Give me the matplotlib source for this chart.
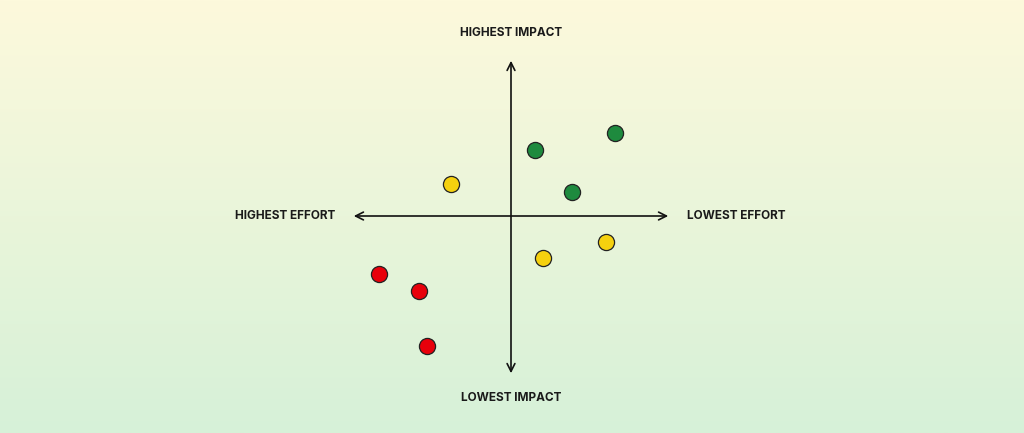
import matplotlib
matplotlib.use("Agg")
import matplotlib.pyplot as plt
import numpy as np

green_x = [24, 104, 61]
green_y = [66, 83, 24]
yellow_x = [-60, 95, 32]
yellow_y = [32, -26, -42]
red_x = [-132, -92, -84]
red_y = [-58, -75, -130]
labels = {"top": "HIGHEST IMPACT", "bottom": "LOWEST IMPACT",
          "left": "HIGHEST EFFORT", "right": "LOWEST EFFORT"}

fig = plt.figure(figsize=(10.24, 4.33), dpi=100)
ax = fig.add_axes([0, 0, 1, 1])
ax.set_xlim(-511, 513)
ax.set_ylim(-217, 216)
ax.axis("off")

top = np.array([0xfd, 0xf9, 0xdc]) / 255
bot = np.array([0xd6, 0xf1, 0xd8]) / 255
t = np.linspace(0, 1, 256)[:, None]
grad = (top * (1 - t) + bot * t)[:, None, :]
ax.imshow(grad, extent=[-511, 513, -217, 216], aspect="auto", zorder=0)

ap = dict(arrowstyle="<->", color="#111111", lw=1.2, mutation_scale=14)
ax.annotate("", xy=(-160, 0), xytext=(160, 0), arrowprops=ap, zorder=2)
ax.annotate("", xy=(0, 158), xytext=(0, -160), arrowprops=ap, zorder=2)

fk = dict(fontsize=8.5, fontweight="bold", family="Inter", color="#1a1a1a")
ax.text(0, 183, labels["top"], ha="center", va="center", **fk)
ax.text(0, -182, labels["bottom"], ha="center", va="center", **fk)
ax.text(-176, 0, labels["left"], ha="right", va="center", **fk)
ax.text(176, 0, labels["right"], ha="left", va="center", **fk)

for xs, ys, c in [(green_x, green_y, "#1e8a3e"), (yellow_x, yellow_y, "#f5d10f"),
                  (red_x, red_y, "#e8000b")]:
    ax.scatter(xs, ys, s=135, c=c, edgecolors="#222222", linewidths=0.9, zorder=3)

fig.savefig("out.png", dpi=100)
